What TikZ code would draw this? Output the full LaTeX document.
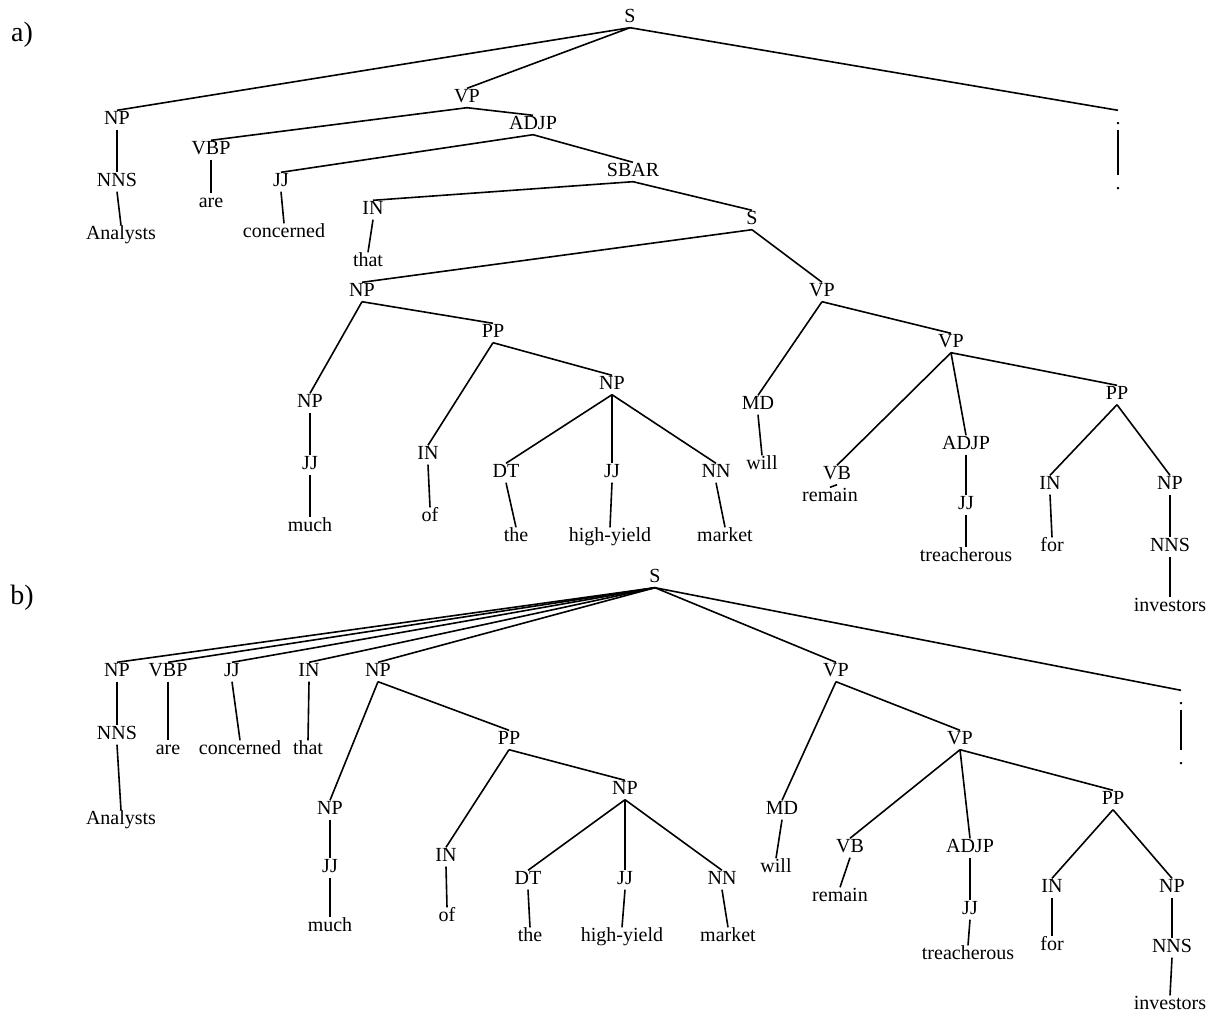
\documentclass[tikz,border=0pt]{standalone}
\usepackage{fontspec}
\setmainfont{Liberation Serif}
\begin{document}
\begin{tikzpicture}[x=1pt,y=-1pt,
  t/.style={inner sep=1pt,text height=13pt,text depth=4pt,font=\fontsize{20}{22}\selectfont},
  lab/.style={font=\fontsize{28}{30}\selectfont},
  e/.style={line width=1.6pt}]
\useasboundingbox (0,0) rectangle (1226,1023);
\node[lab] (la) at (22,35) {a)};
\node[lab] (lb) at (22,598) {b)};
% tree a
\node[t] (aS) at (630,18) {S};
\node[t] (aNP) at (117,120) {NP};
\node[t] (aNNS) at (117,182) {NNS};
\node[t] (aAn) at (121,235) {Analysts};
\node[t] (aVP) at (467,98) {VP};
\node[t] (aVBP) at (211,150) {VBP};
\node[t] (aare) at (211,203) {are};
\node[t] (aADJP) at (533,125) {ADJP};
\node[t] (aJJ) at (281,182) {JJ};
\node[t] (acon) at (284,233) {concerned};
\node[t] (aSBAR) at (633,172) {SBAR};
\node[t] (aIN) at (373,210) {IN};
\node[t] (athat) at (368,262) {that};
\node[t] (aS2) at (752,220) {S};
\node[t] (aNP2) at (362,292) {NP};
\node[t] (aVP2) at (822,292) {VP};
\node[t] (aPP) at (493,333) {PP};
\node[t] (aNP3) at (310,403) {NP};
\node[t] (aJJ2) at (310,465) {JJ};
\node[t] (amuch) at (310,527) {much};
\node[t] (aIN2) at (428,455) {IN};
\node[t] (aof) at (430,517) {of};
\node[t] (aNP4) at (612,385) {NP};
\node[t] (aDT) at (506,473) {DT};
\node[t] (athe) at (516,537) {the};
\node[t] (aJJ3) at (612,473) {JJ};
\node[t] (ahy) at (610,537) {high-yield};
\node[t] (aNN) at (716,473) {NN};
\node[t] (amk) at (725,537) {market};
\node[t] (aMD) at (758,405) {MD};
\node[t] (awill) at (762,465) {will};
\node[t] (aVP3) at (951,343) {VP};
\node[t] (aVB) at (837,475) {VB};
\node[t] (arem) at (830,497) {remain};
\node[t] (aADJP2) at (966,445) {ADJP};
\node[t] (aJJ4) at (966,505) {JJ};
\node[t] (atr) at (966,557) {treacherous};
\node[t] (aPP2) at (1117,395) {PP};
\node[t] (aIN3) at (1050,485) {IN};
\node[t] (afor) at (1052,547) {for};
\node[t] (aNP5) at (1170,485) {NP};
\node[t] (aNNS2) at (1170,547) {NNS};
\node[t] (ainv) at (1170,607) {investors};
\node[t] (adot) at (1118,120) {.};
\node[t] (adot2) at (1118,185) {.};
\foreach \p/\c in {aS/aNP,aNP/aNNS,aNNS/aAn,aS/aVP,aS/adot,adot/adot2,aVP/aVBP,aVBP/aare,aVP/aADJP,
 aADJP/aJJ,aJJ/acon,aADJP/aSBAR,aSBAR/aIN,aIN/athat,aSBAR/aS2,aS2/aNP2,aS2/aVP2,aNP2/aNP3,aNP3/aJJ2,aJJ2/amuch,
 aNP2/aPP,aPP/aIN2,aIN2/aof,aPP/aNP4,aNP4/aDT,aDT/athe,aNP4/aJJ3,aJJ3/ahy,aNP4/aNN,aNN/amk,aVP2/aMD,aMD/awill,
 aVP2/aVP3,aVP3/aVB,aVB/arem,aVP3/aADJP2,aADJP2/aJJ4,aJJ4/atr,aVP3/aPP2,aPP2/aIN3,aIN3/afor,aPP2/aNP5,aNP5/aNNS2,aNNS2/ainv}
 \draw[e] (\p.south) -- (\c.north);
% tree b
\node[t] (bS) at (655,578) {S};
\node[t] (bNP) at (117,672) {NP};
\node[t] (bNNS) at (117,735) {NNS};
\node[t] (bAn) at (121,820) {Analysts};
\node[t] (bVBP) at (168,672) {VBP};
\node[t] (bare) at (168,750) {are};
\node[t] (bJJ) at (232,672) {JJ};
\node[t] (bcon) at (240,750) {concerned};
\node[t] (bIN) at (309,672) {IN};
\node[t] (bthat) at (308,750) {that};
\node[t] (bNP2) at (378,672) {NP};
\node[t] (bPP) at (509,740) {PP};
\node[t] (bNP3) at (330,810) {NP};
\node[t] (bJJ2) at (330,868) {JJ};
\node[t] (bmuch) at (330,927) {much};
\node[t] (bIN2) at (446,857) {IN};
\node[t] (bof) at (447,917) {of};
\node[t] (bNP4) at (625,790) {NP};
\node[t] (bDT) at (528,880) {DT};
\node[t] (bthe) at (530,937) {the};
\node[t] (bJJ3) at (625,880) {JJ};
\node[t] (bhy) at (622,937) {high-yield};
\node[t] (bNN) at (722,880) {NN};
\node[t] (bmk) at (728,937) {market};
\node[t] (bVP) at (836,672) {VP};
\node[t] (bMD) at (782,810) {MD};
\node[t] (bwill) at (776,868) {will};
\node[t] (bVP3) at (960,740) {VP};
\node[t] (bVB) at (850,848) {VB};
\node[t] (brem) at (840,897) {remain};
\node[t] (bADJP) at (970,848) {ADJP};
\node[t] (bJJ4) at (970,910) {JJ};
\node[t] (btr) at (968,955) {treacherous};
\node[t] (bPP2) at (1113,800) {PP};
\node[t] (bIN3) at (1052,888) {IN};
\node[t] (bfor) at (1052,946) {for};
\node[t] (bNP5) at (1172,888) {NP};
\node[t] (bNNS2) at (1172,948) {NNS};
\node[t] (binv) at (1170,1005) {investors};
\node[t] (bdot) at (1181,700) {.};
\node[t] (bdot2) at (1181,760) {.};
\foreach \p/\c in {bS/bNP,bNP/bNNS,bNNS/bAn,bS/bVBP,bVBP/bare,bS/bJJ,bJJ/bcon,bS/bIN,bIN/bthat,bS/bNP2,bS/bVP,bS/bdot,bdot/bdot2,
 bNP2/bNP3,bNP3/bJJ2,bJJ2/bmuch,bNP2/bPP,bPP/bIN2,bIN2/bof,bPP/bNP4,bNP4/bDT,bDT/bthe,bNP4/bJJ3,bJJ3/bhy,bNP4/bNN,bNN/bmk,
 bVP/bMD,bMD/bwill,bVP/bVP3,bVP3/bVB,bVB/brem,bVP3/bADJP,bADJP/bJJ4,bJJ4/btr,bVP3/bPP2,bPP2/bIN3,bIN3/bfor,bPP2/bNP5,bNP5/bNNS2,bNNS2/binv}
 \draw[e] (\p.south) -- (\c.north);
\end{tikzpicture}
\end{document}
